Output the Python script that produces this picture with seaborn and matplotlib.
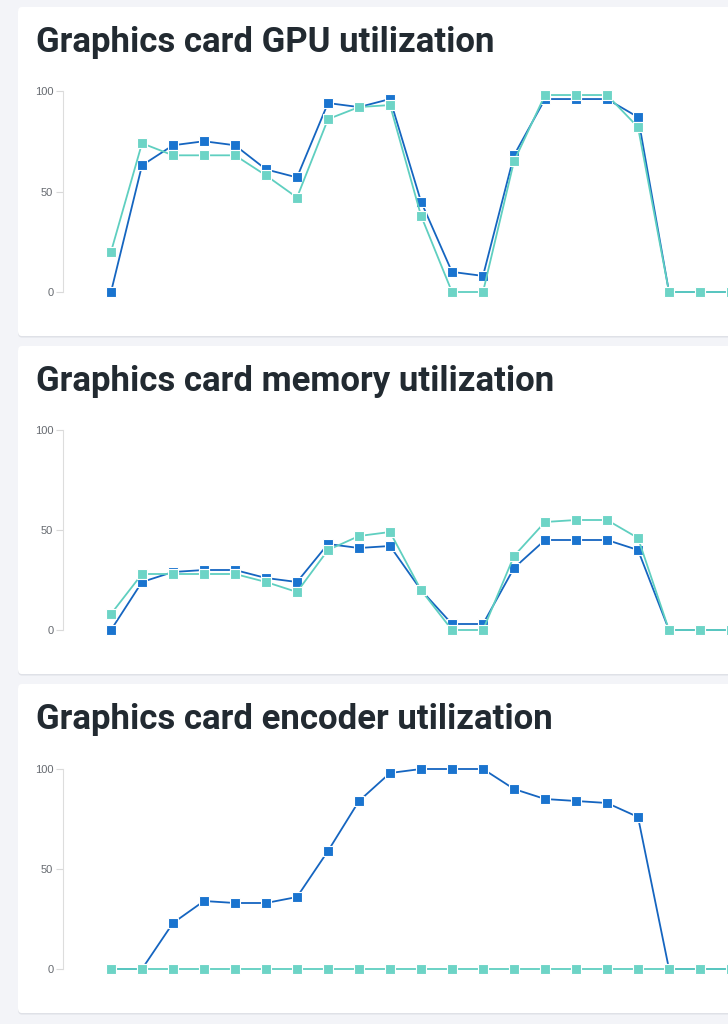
import numpy as np
import pandas as pd
import matplotlib
matplotlib.use('Agg')
import matplotlib.pyplot as plt
from matplotlib.patches import FancyBboxPatch
import seaborn as sns

# data (21 samples, the last one cut at the right edge)
samples = list(range(21))
gpu_a = [0, 63, 73, 75, 73, 61, 57, 94, 92, 96, 45, 10, 8, 68, 96, 96, 96, 87, 0, 0, 0]
gpu_b = [20, 74, 68, 68, 68, 58, 47, 86, 92, 93, 38, 0, 0, 65, 98, 98, 98, 82, 0, 0, 0]
mem_a = [0, 24, 29, 30, 30, 26, 24, 43, 41, 42, 20, 3, 3, 31, 45, 45, 45, 40, 0, 0, 0]
mem_b = [8, 28, 28, 28, 28, 24, 19, 40, 47, 49, 20, 0, 0, 37, 54, 55, 55, 46, 0, 0, 0]
enc_a = [0, 0, 23, 34, 33, 33, 36, 59, 84, 98, 100, 100, 100, 90, 85, 84, 83, 76, 0, 0, 0]
enc_b = [0] * 21

titles = ['Graphics card GPU utilization',
          'Graphics card memory utilization',
          'Graphics card encoder utilization']
y_ticks = [0, 50, 100]

blue = '#1a74cf'
blue_line = '#1565c0'
teal = '#6dd4c6'
teal_line = '#5fcfc0'

W, H = 728, 1024
sns.set_style('white')
plt.rcParams['font.family'] = ['Roboto', 'DejaVu Sans']

fig = plt.figure(figsize=(W / 100, H / 100), dpi=100)
fig.patch.set_facecolor('#f3f4f8')

# card boxes (top, bottom) and chart area (y100, y0) in pixels
cards = [(7, 336), (346, 674), (684, 1013)]
plots = [(91, 292), (430, 630), (769, 969)]
series = [(gpu_a, gpu_b), (mem_a, mem_b), (enc_a, enc_b)]

for (top, bot), (p100, p0), title, (sa, sb) in zip(cards, plots, titles, series):
    # shadow + card, kept behind the axes
    fig.patches.append(FancyBboxPatch((18 / W, 1 - (bot + 1.5) / H), 760 / W, (bot - top) / H,
                                      boxstyle='round,pad=0,rounding_size=0.005',
                                      transform=fig.transFigure, fc='#dfe1e7', ec='none', zorder=-2))
    fig.patches.append(FancyBboxPatch((18 / W, 1 - bot / H), 760 / W, (bot - top) / H,
                                      boxstyle='round,pad=0,rounding_size=0.005',
                                      transform=fig.transFigure, fc='white', ec='none', zorder=-1))
    fig.text(36 / W, 1 - (top + 45) / H, title, fontsize=25, fontweight='bold',
             color='#222a31', ha='left', va='baseline')

    left, right = 63, 760
    ax = fig.add_axes([left / W, 1 - p0 / H, (right - left) / W, (p0 - p100) / H])
    ax.set_facecolor('none')
    x0 = -(111 - left) / 31
    ax.set_xlim(x0, x0 + (right - left) / 31)
    ax.set_ylim(0, 100)

    df = pd.DataFrame({'x': samples, 'a': sa, 'b': sb})
    sns.lineplot(data=df, x='x', y='a', ax=ax, color=blue_line, linewidth=1.3,
                 marker='s', markersize=6.5, markerfacecolor=blue,
                 markeredgecolor='white', markeredgewidth=0.8, clip_on=False)
    sns.lineplot(data=df, x='x', y='b', ax=ax, color=teal_line, linewidth=1.3,
                 marker='s', markersize=6.5, markerfacecolor=teal,
                 markeredgecolor='white', markeredgewidth=0.8, clip_on=False)

    ax.set_xlabel('')
    ax.set_ylabel('')
    ax.set_xticks([])
    ax.set_yticks(y_ticks)
    ax.set_yticklabels([str(t) for t in y_ticks], family=['Liberation Sans', 'DejaVu Sans'])
    ax.tick_params(axis='y', length=5, width=0.8, color='#d9d9d9', labelsize=8,
                   labelcolor='#666a70', pad=2, left=True)
    for s in ['top', 'right', 'bottom']:
        ax.spines[s].set_visible(False)
    ax.spines['left'].set_color('#dddddd')
    ax.spines['left'].set_linewidth(0.8)

fig.savefig('out.png', dpi=100, facecolor=fig.get_facecolor())
